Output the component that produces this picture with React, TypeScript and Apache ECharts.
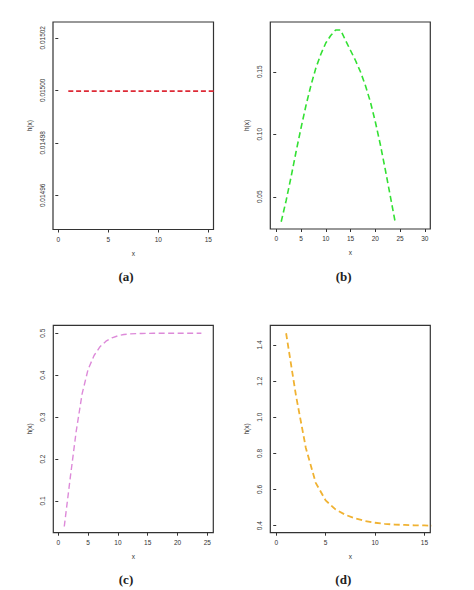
import React, { useEffect, useRef } from "react";
import * as echarts from "echarts";

// (a) constant hazard
const xA = [1, 2, 3, 4, 5, 6, 7, 8, 9, 10, 11, 12, 13, 14, 15, 16];
const hA = [
  0.0149997, 0.0149997, 0.0149997, 0.0149997, 0.0149997, 0.0149997, 0.0149997, 0.0149997,
  0.0149997, 0.0149997, 0.0149997, 0.0149997, 0.0149997, 0.0149997, 0.0149997, 0.0149997,
];

// (b) up-then-down hazard
const xB = [1, 2, 3, 4, 5, 6, 7, 8, 9, 10, 11, 12, 13, 14, 15, 16, 17, 18, 19, 20, 21, 22, 23, 24];
const hB = [
  0.03, 0.047, 0.066, 0.086, 0.105, 0.123, 0.139, 0.153, 0.164, 0.173, 0.179, 0.1834,
  0.1834, 0.175, 0.167, 0.159, 0.15, 0.139, 0.126, 0.11, 0.092, 0.072, 0.051, 0.03,
];

// (c) increasing hazard
const xC = [1, 2, 3, 4, 5, 6, 7, 8, 9, 10, 11, 12, 13, 14, 15, 16, 17, 18, 19, 20, 21, 22, 23, 24];
const hC = [
  0.039, 0.155, 0.266, 0.356, 0.414, 0.447, 0.468, 0.481, 0.489, 0.494, 0.497, 0.4985,
  0.4992, 0.4996, 0.4998, 0.4999, 0.5, 0.5, 0.5, 0.5, 0.5, 0.5, 0.5, 0.5,
];

// (d) decreasing hazard
const xD = [1, 2, 3, 4, 5, 6, 7, 8, 9, 10, 11, 12, 13, 14, 15, 16];
const hD = [
  1.465, 1.12, 0.83, 0.637, 0.54, 0.49, 0.46, 0.44, 0.426, 0.416, 0.41, 0.406, 0.404,
  0.402, 0.401, 0.4,
];

// tick labels
const xTicksA = [0, 5, 10, 15];
const yTicksA = [0.01496, 0.01498, 0.015, 0.01502];
const xTicksB = [0, 5, 10, 15, 20, 25, 30];
const yTicksB = [0.05, 0.1, 0.15];
const xTicksC = [0, 5, 10, 15, 20, 25];
const yTicksC = [0.1, 0.2, 0.3, 0.4, 0.5];
const xTicksD = [0, 5, 10, 15];
const yTicksD = [0.4, 0.6, 0.8, 1.0, 1.2, 1.4];

const captions = ["(a)", "(b)", "(c)", "(d)"];

const SANS = "'Liberation Sans', Arial, sans-serif";
const SERIF = "'Liberation Serif', 'Times New Roman', serif";

const panels = [
  {
    box: [53, 22, 160.5, 207.5],
    xRange: [-0.53, 15.52],
    yRange: [0.014947, 0.015026],
    xs: xA, ys: hA, xTicks: xTicksA, yTicks: yTicksA, digits: 5,
    color: "#dd2a36", width: 1.8, dash: [5, 2.8],
    cap: [126, 276.5],
  },
  {
    box: [270.3, 22, 160, 207],
    xRange: [-1.2, 31.1],
    yRange: [0.0242, 0.1898],
    xs: xB, ys: hB, xTicks: xTicksB, yTicks: yTicksB, digits: 2,
    color: "#33e033", width: 1.6, dash: [6, 3.5],
    cap: [343.7, 276.5],
  },
  {
    box: [53.3, 325.3, 160, 207.4],
    xRange: [-0.84, 26.0],
    yRange: [0.0243, 0.519],
    xs: xC, ys: hC, xTicks: xTicksC, yTicks: yTicksC, digits: 1,
    color: "#dd8ad9", width: 1.4, dash: [6, 3.5],
    cap: [126, 579.3],
  },
  {
    box: [270.3, 325.3, 160, 207.4],
    xRange: [-0.6, 15.6],
    yRange: [0.361, 1.509],
    xs: xD, ys: hD, xTicks: xTicksD, yTicks: yTicksD, digits: 1,
    color: "#f0b232", width: 1.8, dash: [6, 3.5],
    cap: [343.3, 579.3],
  },
];

const App: React.FC = () => {
  const chartRef = useRef<HTMLDivElement>(null);

  useEffect(() => {
    if (!chartRef.current) return;
    const chart = echarts.init(chartRef.current, null, { renderer: "svg" });

    const labelStyle = { fontFamily: SANS, fontSize: 6.5, color: "#333" };

    const option = {
      animation: false,
      backgroundColor: "#fff",
      grid: panels.map((p) => ({
        left: p.box[0],
        top: p.box[1],
        width: p.box[2],
        height: p.box[3],
        show: true,
        borderColor: "#333",
        borderWidth: 1.2,
        backgroundColor: "transparent",
      })),
      xAxis: panels.map((p, i) => ({
        type: "value",
        gridIndex: i,
        min: p.xRange[0],
        max: p.xRange[1],
        name: "x",
        nameLocation: "middle",
        nameGap: 20,
        nameTextStyle: labelStyle,
        splitLine: { show: false },
        axisLine: { show: false },
        axisTick: {
          show: true,
          length: 3,
          customValues: p.xTicks,
          lineStyle: { color: "#333", width: 1 },
        },
        axisLabel: {
          ...labelStyle,
          margin: 6,
          customValues: p.xTicks,
          formatter: (v: number) => String(Math.round(v)),
        },
      })),
      yAxis: panels.map((p, i) => ({
        type: "value",
        gridIndex: i,
        min: p.yRange[0],
        max: p.yRange[1],
        name: "h(x)",
        nameLocation: "middle",
        nameGap: 20,
        nameTextStyle: labelStyle,
        splitLine: { show: false },
        axisLine: { show: false },
        axisTick: {
          show: true,
          length: 3,
          customValues: p.yTicks,
          lineStyle: { color: "#333", width: 1 },
        },
        axisLabel: {
          ...labelStyle,
          rotate: 90,
          margin: 7,
          customValues: p.yTicks,
          formatter: (v: number) => v.toFixed(p.digits),
        },
      })),
      series: panels.map((p, i) => ({
        type: "line",
        xAxisIndex: i,
        yAxisIndex: i,
        data: p.xs.map((x, k) => [x, p.ys[k]]),
        showSymbol: false,
        smooth: false,
        clip: true,
        lineStyle: { color: p.color, width: p.width, type: p.dash },
      })),
      graphic: panels.map((p, i) => ({
        type: "text",
        x: p.cap[0],
        y: p.cap[1],
        style: {
          text: captions[i],
          fontFamily: SERIF,
          fontWeight: "bold",
          fontSize: 13,
          fill: "#222",
          textAlign: "center",
          textVerticalAlign: "middle",
        },
      })),
    };

    chart.setOption(option);

    return () => {
      chart.dispose();
    };
  }, []);

  return (
    <div
      ref={chartRef}
      style={{ position: "absolute", left: 0, top: 0, width: "474px", height: "590px" }}
    />
  );
};

export default App;
